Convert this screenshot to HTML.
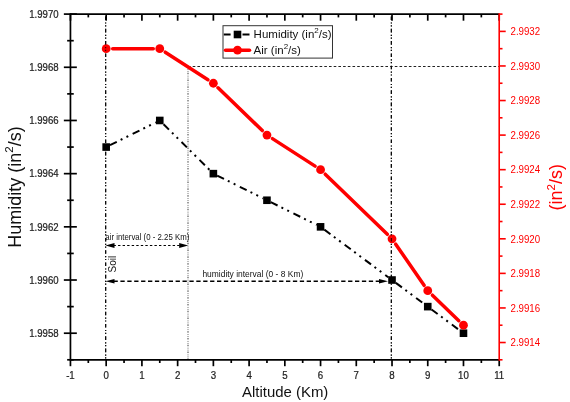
<!DOCTYPE html><html><head><meta charset="utf-8"><style>html,body{margin:0;padding:0;background:#fff;width:570px;height:402px;overflow:hidden}svg{display:block;will-change:transform}text{font-family:"Liberation Sans",sans-serif}</style></head><body>
<svg width="570" height="402" viewBox="0 0 570 402">
<rect width="570" height="402" fill="#fff"/>
<line x1="105.68" y1="14.1" x2="105.68" y2="359.8" stroke="#000" stroke-width="1.05" stroke-dasharray="3.6 2.3 1.2 1.6 1.2 2.4" stroke-dashoffset="9.9"/>
<line x1="391.32" y1="14.1" x2="391.32" y2="359.8" stroke="#000" stroke-width="1.05" stroke-dasharray="3.6 2.3 1.2 1.6 1.2 2.4" stroke-dashoffset="9.9"/>
<line x1="188.00" y1="65.96" x2="188.00" y2="359.8" stroke="#3a3a3a" stroke-width="1" stroke-dasharray="1.5 1.5 0.7 1.3 0.7 1.1"/>
<line x1="188.00" y1="66.5" x2="499.21" y2="66.5" stroke="#222" stroke-width="1" stroke-dasharray="2.6 2.1"/>
<line x1="113.50" y1="245.5" x2="180.20" y2="245.5" stroke="#000" stroke-width="1.0" stroke-dasharray="2.4 2.15"/>
<path d="M105.50 245.5 L114.50 243.0 L114.50 248.0 Z" fill="#000"/>
<path d="M188.20 245.5 L179.20 243.0 L179.20 248.0 Z" fill="#000"/>
<line x1="113.50" y1="281.2" x2="380.00" y2="281.2" stroke="#000" stroke-width="1.6" stroke-dasharray="4.3 2.6"/>
<path d="M105.50 281.2 L114.50 279.0 L114.50 283.4 Z" fill="#000"/>
<path d="M388.00 281.2 L379.00 279.0 L379.00 283.4 Z" fill="#000"/>
<text transform="translate(105.3,239.9) scale(1,1.15)" font-size="7.85" fill="#111">air interval (0 - 2.25 Km)</text>
<text transform="translate(202.4,277) scale(1,1.15)" font-size="8.45" fill="#111">humidity interval (0 - 8 Km)</text>
<text transform="translate(115.8,272.4) rotate(-90)" font-size="10" fill="#111">Soil</text>
<line x1="109.98" y1="145.18" x2="155.97" y2="122.35" stroke="#000" stroke-width="2" stroke-dasharray="7.6 4.3 2 4.5 2 4.9"/>
<line x1="163.57" y1="124.24" x2="209.57" y2="169.88" stroke="#000" stroke-width="2" stroke-dasharray="7.6 4.3 2 4.5 2 4.9"/>
<line x1="217.17" y1="175.54" x2="263.16" y2="198.36" stroke="#000" stroke-width="2" stroke-dasharray="7.6 4.3 2 4.5 2 4.9"/>
<line x1="270.76" y1="202.13" x2="316.76" y2="224.95" stroke="#000" stroke-width="2" stroke-dasharray="7.6 4.3 2 4.5 2 4.9"/>
<line x1="324.36" y1="229.67" x2="388.22" y2="277.19" stroke="#000" stroke-width="2" stroke-dasharray="7.6 4.3 2 4.5 2 4.9"/>
<line x1="395.82" y1="282.85" x2="423.95" y2="303.79" stroke="#000" stroke-width="2" stroke-dasharray="7.6 4.3 2 4.5 2 4.9"/>
<line x1="431.55" y1="309.44" x2="459.68" y2="330.38" stroke="#000" stroke-width="2" stroke-dasharray="7.6 4.3 2 4.5 2 4.9"/>
<rect x="102.38" y="143.26" width="7.6" height="7.6" fill="#000"/>
<rect x="155.97" y="116.67" width="7.6" height="7.6" fill="#000"/>
<rect x="209.57" y="169.85" width="7.6" height="7.6" fill="#000"/>
<rect x="263.16" y="196.45" width="7.6" height="7.6" fill="#000"/>
<rect x="316.76" y="223.04" width="7.6" height="7.6" fill="#000"/>
<rect x="388.22" y="276.22" width="7.6" height="7.6" fill="#000"/>
<rect x="423.95" y="302.82" width="7.6" height="7.6" fill="#000"/>
<rect x="459.68" y="329.41" width="7.6" height="7.6" fill="#000"/>
<line x1="112.68" y1="48.67" x2="153.27" y2="48.67" stroke="#f00" stroke-width="3.5" stroke-linecap="round"/>
<line x1="165.24" y1="52.19" x2="207.91" y2="79.72" stroke="#f00" stroke-width="3.5" stroke-linecap="round"/>
<line x1="218.04" y1="87.76" x2="262.29" y2="130.58" stroke="#f00" stroke-width="3.5" stroke-linecap="round"/>
<line x1="272.43" y1="138.62" x2="315.10" y2="166.14" stroke="#f00" stroke-width="3.5" stroke-linecap="round"/>
<line x1="325.23" y1="174.18" x2="387.35" y2="234.29" stroke="#f00" stroke-width="3.5" stroke-linecap="round"/>
<line x1="395.71" y1="244.16" x2="424.06" y2="285.31" stroke="#f00" stroke-width="3.5" stroke-linecap="round"/>
<line x1="432.42" y1="295.18" x2="458.81" y2="320.71" stroke="#f00" stroke-width="3.5" stroke-linecap="round"/>
<circle cx="106.18" cy="48.67" r="4.4" fill="#f00"/>
<circle cx="159.77" cy="48.67" r="4.4" fill="#f00"/>
<circle cx="213.37" cy="83.24" r="4.4" fill="#f00"/>
<circle cx="266.96" cy="135.10" r="4.4" fill="#f00"/>
<circle cx="320.56" cy="169.67" r="4.4" fill="#f00"/>
<circle cx="392.02" cy="238.81" r="4.4" fill="#f00"/>
<circle cx="427.75" cy="290.66" r="4.4" fill="#f00"/>
<circle cx="463.48" cy="325.23" r="4.4" fill="#f00"/>
<g opacity="0.85">
<line x1="105.68" y1="14.1" x2="105.68" y2="359.8" stroke="#000" stroke-width="1.05" stroke-dasharray="3.6 2.3 1.2 1.6 1.2 2.4" stroke-dashoffset="9.9"/>
<line x1="391.32" y1="14.1" x2="391.32" y2="359.8" stroke="#000" stroke-width="1.05" stroke-dasharray="3.6 2.3 1.2 1.6 1.2 2.4" stroke-dashoffset="9.9"/>
</g>
<path d="M70.45 14.1 H499.21" stroke="#000" stroke-width="1.7" fill="none"/>
<path d="M70.45 359.8 H499.21" stroke="#000" stroke-width="1.7" fill="none"/>
<path d="M70.45 13.25 V360.65000000000003" stroke="#000" stroke-width="1.7" fill="none"/>
<path d="M70.45 359.8 V366.2" stroke="#000" stroke-width="1.7"/>
<path d="M70.45 14.1 V20.7" stroke="#000" stroke-width="1.7"/>
<text transform="translate(70.45,378.9) scale(1,1.2)" font-size="9.7" fill="#222" stroke="#222" stroke-width="0.2" text-anchor="middle">-1</text>
<path d="M88.31 359.8 V363.0" stroke="#000" stroke-width="1.7"/>
<path d="M88.31 14.1 V17.4" stroke="#000" stroke-width="1.7"/>
<path d="M106.18 359.8 V366.2" stroke="#000" stroke-width="1.7"/>
<path d="M106.18 14.1 V20.7" stroke="#000" stroke-width="1.7"/>
<text transform="translate(106.18,378.9) scale(1,1.2)" font-size="9.7" fill="#222" stroke="#222" stroke-width="0.2" text-anchor="middle">0</text>
<path d="M124.05 359.8 V363.0" stroke="#000" stroke-width="1.7"/>
<path d="M124.05 14.1 V17.4" stroke="#000" stroke-width="1.7"/>
<path d="M141.91 359.8 V366.2" stroke="#000" stroke-width="1.7"/>
<path d="M141.91 14.1 V20.7" stroke="#000" stroke-width="1.7"/>
<text transform="translate(141.91,378.9) scale(1,1.2)" font-size="9.7" fill="#222" stroke="#222" stroke-width="0.2" text-anchor="middle">1</text>
<path d="M159.77 359.8 V363.0" stroke="#000" stroke-width="1.7"/>
<path d="M159.77 14.1 V17.4" stroke="#000" stroke-width="1.7"/>
<path d="M177.64 359.8 V366.2" stroke="#000" stroke-width="1.7"/>
<path d="M177.64 14.1 V20.7" stroke="#000" stroke-width="1.7"/>
<text transform="translate(177.64,378.9) scale(1,1.2)" font-size="9.7" fill="#222" stroke="#222" stroke-width="0.2" text-anchor="middle">2</text>
<path d="M195.50 359.8 V363.0" stroke="#000" stroke-width="1.7"/>
<path d="M195.50 14.1 V17.4" stroke="#000" stroke-width="1.7"/>
<path d="M213.37 359.8 V366.2" stroke="#000" stroke-width="1.7"/>
<path d="M213.37 14.1 V20.7" stroke="#000" stroke-width="1.7"/>
<text transform="translate(213.37,378.9) scale(1,1.2)" font-size="9.7" fill="#222" stroke="#222" stroke-width="0.2" text-anchor="middle">3</text>
<path d="M231.24 359.8 V363.0" stroke="#000" stroke-width="1.7"/>
<path d="M231.24 14.1 V17.4" stroke="#000" stroke-width="1.7"/>
<path d="M249.10 359.8 V366.2" stroke="#000" stroke-width="1.7"/>
<path d="M249.10 14.1 V20.7" stroke="#000" stroke-width="1.7"/>
<text transform="translate(249.10,378.9) scale(1,1.2)" font-size="9.7" fill="#222" stroke="#222" stroke-width="0.2" text-anchor="middle">4</text>
<path d="M266.96 359.8 V363.0" stroke="#000" stroke-width="1.7"/>
<path d="M266.96 14.1 V17.4" stroke="#000" stroke-width="1.7"/>
<path d="M284.83 359.8 V366.2" stroke="#000" stroke-width="1.7"/>
<path d="M284.83 14.1 V20.7" stroke="#000" stroke-width="1.7"/>
<text transform="translate(284.83,378.9) scale(1,1.2)" font-size="9.7" fill="#222" stroke="#222" stroke-width="0.2" text-anchor="middle">5</text>
<path d="M302.69 359.8 V363.0" stroke="#000" stroke-width="1.7"/>
<path d="M302.69 14.1 V17.4" stroke="#000" stroke-width="1.7"/>
<path d="M320.56 359.8 V366.2" stroke="#000" stroke-width="1.7"/>
<path d="M320.56 14.1 V20.7" stroke="#000" stroke-width="1.7"/>
<text transform="translate(320.56,378.9) scale(1,1.2)" font-size="9.7" fill="#222" stroke="#222" stroke-width="0.2" text-anchor="middle">6</text>
<path d="M338.42 359.8 V363.0" stroke="#000" stroke-width="1.7"/>
<path d="M338.42 14.1 V17.4" stroke="#000" stroke-width="1.7"/>
<path d="M356.29 359.8 V366.2" stroke="#000" stroke-width="1.7"/>
<path d="M356.29 14.1 V20.7" stroke="#000" stroke-width="1.7"/>
<text transform="translate(356.29,378.9) scale(1,1.2)" font-size="9.7" fill="#222" stroke="#222" stroke-width="0.2" text-anchor="middle">7</text>
<path d="M374.15 359.8 V363.0" stroke="#000" stroke-width="1.7"/>
<path d="M374.15 14.1 V17.4" stroke="#000" stroke-width="1.7"/>
<path d="M392.02 359.8 V366.2" stroke="#000" stroke-width="1.7"/>
<path d="M392.02 14.1 V20.7" stroke="#000" stroke-width="1.7"/>
<text transform="translate(392.02,378.9) scale(1,1.2)" font-size="9.7" fill="#222" stroke="#222" stroke-width="0.2" text-anchor="middle">8</text>
<path d="M409.88 359.8 V363.0" stroke="#000" stroke-width="1.7"/>
<path d="M409.88 14.1 V17.4" stroke="#000" stroke-width="1.7"/>
<path d="M427.75 359.8 V366.2" stroke="#000" stroke-width="1.7"/>
<path d="M427.75 14.1 V20.7" stroke="#000" stroke-width="1.7"/>
<text transform="translate(427.75,378.9) scale(1,1.2)" font-size="9.7" fill="#222" stroke="#222" stroke-width="0.2" text-anchor="middle">9</text>
<path d="M445.61 359.8 V363.0" stroke="#000" stroke-width="1.7"/>
<path d="M445.61 14.1 V17.4" stroke="#000" stroke-width="1.7"/>
<path d="M463.48 359.8 V366.2" stroke="#000" stroke-width="1.7"/>
<path d="M463.48 14.1 V20.7" stroke="#000" stroke-width="1.7"/>
<text transform="translate(463.48,378.9) scale(1,1.2)" font-size="9.7" fill="#222" stroke="#222" stroke-width="0.2" text-anchor="middle">10</text>
<path d="M481.34 359.8 V363.0" stroke="#000" stroke-width="1.7"/>
<path d="M481.34 14.1 V17.4" stroke="#000" stroke-width="1.7"/>
<path d="M499.21 359.8 V366.2" stroke="#000" stroke-width="1.7"/>
<path d="M499.21 14.1 V20.7" stroke="#000" stroke-width="1.7"/>
<text transform="translate(499.21,378.9) scale(1,1.2)" font-size="9.7" fill="#222" stroke="#222" stroke-width="0.2" text-anchor="middle">11</text>
<path d="M67.15 359.80 H73.75" stroke="#000" stroke-width="1.7"/>
<path d="M63.85 333.21 H76.85" stroke="#000" stroke-width="1.7"/>
<text transform="translate(58.6,336.91) scale(1,1.2)" font-size="9.6" fill="#222" stroke="#222" stroke-width="0.2" text-anchor="end">1.9958</text>
<path d="M67.15 306.62 H73.75" stroke="#000" stroke-width="1.7"/>
<path d="M63.85 280.02 H76.85" stroke="#000" stroke-width="1.7"/>
<text transform="translate(58.6,283.72) scale(1,1.2)" font-size="9.6" fill="#222" stroke="#222" stroke-width="0.2" text-anchor="end">1.9960</text>
<path d="M67.15 253.43 H73.75" stroke="#000" stroke-width="1.7"/>
<path d="M63.85 226.84 H76.85" stroke="#000" stroke-width="1.7"/>
<text transform="translate(58.6,230.54) scale(1,1.2)" font-size="9.6" fill="#222" stroke="#222" stroke-width="0.2" text-anchor="end">1.9962</text>
<path d="M67.15 200.25 H73.75" stroke="#000" stroke-width="1.7"/>
<path d="M63.85 173.65 H76.85" stroke="#000" stroke-width="1.7"/>
<text transform="translate(58.6,177.35) scale(1,1.2)" font-size="9.6" fill="#222" stroke="#222" stroke-width="0.2" text-anchor="end">1.9964</text>
<path d="M67.15 147.06 H73.75" stroke="#000" stroke-width="1.7"/>
<path d="M63.85 120.47 H76.85" stroke="#000" stroke-width="1.7"/>
<text transform="translate(58.6,124.17) scale(1,1.2)" font-size="9.6" fill="#222" stroke="#222" stroke-width="0.2" text-anchor="end">1.9966</text>
<path d="M67.15 93.88 H73.75" stroke="#000" stroke-width="1.7"/>
<path d="M63.85 67.28 H76.85" stroke="#000" stroke-width="1.7"/>
<text transform="translate(58.6,70.98) scale(1,1.2)" font-size="9.6" fill="#222" stroke="#222" stroke-width="0.2" text-anchor="end">1.9968</text>
<path d="M67.15 40.69 H73.75" stroke="#000" stroke-width="1.7"/>
<path d="M63.85 14.10 H76.85" stroke="#000" stroke-width="1.7"/>
<text transform="translate(58.6,17.80) scale(1,1.2)" font-size="9.6" fill="#222" stroke="#222" stroke-width="0.2" text-anchor="end">1.9970</text>
<path d="M499.21 13.25 V360.65000000000003" stroke="#f00" stroke-width="1.6" fill="none"/>
<path d="M499.21 359.80 H502.51" stroke="#f00" stroke-width="1.6"/>
<path d="M499.21 342.52 H505.71" stroke="#f00" stroke-width="1.6"/>
<text transform="translate(510.5,346.22) scale(1,1.2)" font-size="9.7" fill="#f00">2.9914</text>
<path d="M499.21 325.23 H502.51" stroke="#f00" stroke-width="1.6"/>
<path d="M499.21 307.95 H505.71" stroke="#f00" stroke-width="1.6"/>
<text transform="translate(510.5,311.65) scale(1,1.2)" font-size="9.7" fill="#f00">2.9916</text>
<path d="M499.21 290.66 H502.51" stroke="#f00" stroke-width="1.6"/>
<path d="M499.21 273.38 H505.71" stroke="#f00" stroke-width="1.6"/>
<text transform="translate(510.5,277.08) scale(1,1.2)" font-size="9.7" fill="#f00">2.9918</text>
<path d="M499.21 256.09 H502.51" stroke="#f00" stroke-width="1.6"/>
<path d="M499.21 238.81 H505.71" stroke="#f00" stroke-width="1.6"/>
<text transform="translate(510.5,242.51) scale(1,1.2)" font-size="9.7" fill="#f00">2.9920</text>
<path d="M499.21 221.52 H502.51" stroke="#f00" stroke-width="1.6"/>
<path d="M499.21 204.24 H505.71" stroke="#f00" stroke-width="1.6"/>
<text transform="translate(510.5,207.94) scale(1,1.2)" font-size="9.7" fill="#f00">2.9922</text>
<path d="M499.21 186.95 H502.51" stroke="#f00" stroke-width="1.6"/>
<path d="M499.21 169.67 H505.71" stroke="#f00" stroke-width="1.6"/>
<text transform="translate(510.5,173.37) scale(1,1.2)" font-size="9.7" fill="#f00">2.9924</text>
<path d="M499.21 152.38 H502.51" stroke="#f00" stroke-width="1.6"/>
<path d="M499.21 135.10 H505.71" stroke="#f00" stroke-width="1.6"/>
<text transform="translate(510.5,138.80) scale(1,1.2)" font-size="9.7" fill="#f00">2.9926</text>
<path d="M499.21 117.81 H502.51" stroke="#f00" stroke-width="1.6"/>
<path d="M499.21 100.53 H505.71" stroke="#f00" stroke-width="1.6"/>
<text transform="translate(510.5,104.23) scale(1,1.2)" font-size="9.7" fill="#f00">2.9928</text>
<path d="M499.21 83.24 H502.51" stroke="#f00" stroke-width="1.6"/>
<path d="M499.21 65.96 H505.71" stroke="#f00" stroke-width="1.6"/>
<text transform="translate(510.5,69.66) scale(1,1.2)" font-size="9.7" fill="#f00">2.9930</text>
<path d="M499.21 48.67 H502.51" stroke="#f00" stroke-width="1.6"/>
<path d="M499.21 31.39 H505.71" stroke="#f00" stroke-width="1.6"/>
<text transform="translate(510.5,35.09) scale(1,1.2)" font-size="9.7" fill="#f00">2.9932</text>
<path d="M499.21 14.10 H502.51" stroke="#f00" stroke-width="1.6"/>
<text transform="translate(242.0,396.9) scale(1,1.0)" font-size="14.95" fill="#111">Altitude (Km)</text>
<text transform="translate(21.0,247.7) rotate(-90)" font-size="18" fill="#111">Humidity (in<tspan font-size="11.6" dy="-7.9">2</tspan><tspan dy="7.9">/s)</tspan></text>
<text transform="translate(562.4,210.4) rotate(-90)" font-size="18" fill="#f00">(in<tspan font-size="11.6" dy="-7.9">2</tspan><tspan dy="7.9">/s)</tspan></text>
<rect x="223" y="25.7" width="109.5" height="32.4" fill="#fff" stroke="#333" stroke-width="1"/>
<line x1="223.8" y1="34.5" x2="230.6" y2="34.5" stroke="#000" stroke-width="2"/>
<line x1="242.5" y1="34.5" x2="249.5" y2="34.5" stroke="#000" stroke-width="2"/>
<rect x="233.7" y="30.7" width="7.6" height="7.6" fill="#000"/>
<line x1="225.5" y1="50.2" x2="249.5" y2="50.2" stroke="#f00" stroke-width="3.5" stroke-linecap="round"/>
<circle cx="237.5" cy="50.2" r="4.4" fill="#f00"/>
<text transform="translate(253.6,38.3) scale(1,1.0)" font-size="11.5" fill="#111">Humidity (in<tspan font-size="8" dy="-5">2</tspan><tspan dy="5">/s)</tspan></text>
<text transform="translate(253.6,54.0) scale(1,1.0)" font-size="11.5" fill="#111">Air (in<tspan font-size="8" dy="-5">2</tspan><tspan dy="5">/s)</tspan></text>
</svg></body></html>
